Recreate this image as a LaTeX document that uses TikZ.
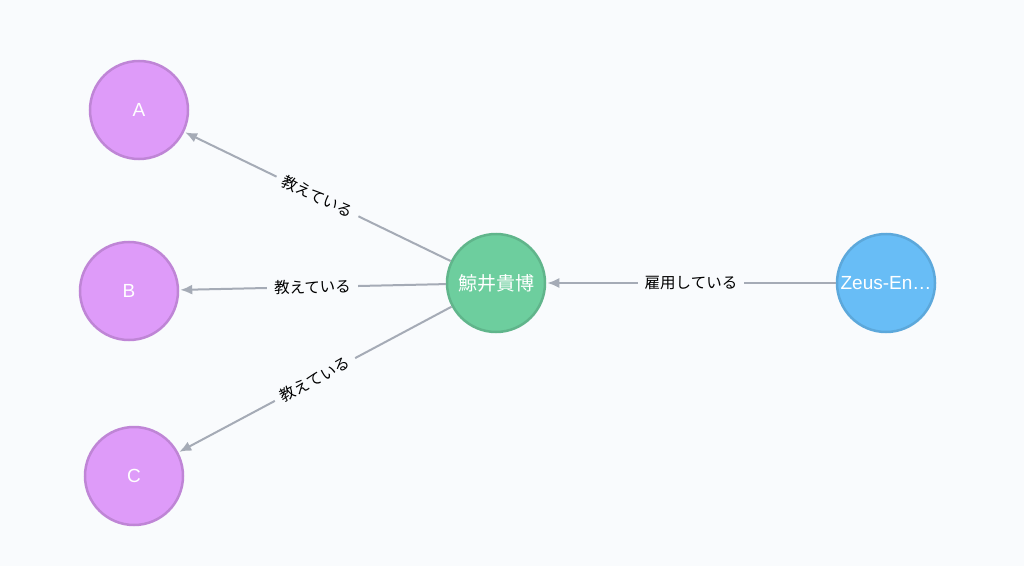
\documentclass[tikz,border=0pt]{standalone}
\usepackage{fontspec}
\setmainfont{Liberation Sans}
\newfontfamily\jpfont{Noto Sans CJK JP}
\usetikzlibrary{arrows.meta}

\definecolor{bgcol}{HTML}{F9FBFD}
\definecolor{edgecol}{HTML}{A5ABB6}
\definecolor{purplefill}{HTML}{DE9BF9}
\definecolor{purpleline}{HTML}{BF85D6}
\definecolor{greenfill}{HTML}{6DCE9E}
\definecolor{greenline}{HTML}{60B58B}
\definecolor{bluefill}{HTML}{68BDF6}
\definecolor{blueline}{HTML}{5CA8DB}

\begin{document}
\begin{tikzpicture}[x=1pt,y=1pt,
  person/.style={circle,minimum size=98pt,inner sep=0pt,line width=2.5pt,
    text=white,font=\fontsize{19}{19}\selectfont},
  student/.style={person,fill=purplefill,draw=purpleline},
  teacher/.style={person,fill=greenfill,draw=greenline,font=\jpfont\fontsize{19}{19}\selectfont},
  company/.style={person,fill=bluefill,draw=blueline},
  rel/.style={draw=edgecol,line width=2pt,-{Latex[length=12pt,width=10pt]},shorten >=1pt},
  lbl/.style={fill=bgcol,inner xsep=7pt,inner ysep=1pt,text=black,
    font=\jpfont\fontsize{15.5}{15.5}\selectfont}]

  \fill[bgcol] (0,0) rectangle (1024,566);
  \useasboundingbox (0,0) rectangle (1024,566);

  \node[student] (a) at (139,456) {A};
  \node[student] (b) at (129,275) {B};
  \node[student] (c) at (134,90) {C};

  \node[teacher] (t) at (496,283) {鯨井貴博};
  \node[company] (z) at (886,283) {Zeus-En…};

  \draw[rel] (t) to node[lbl,sloped] {教えている} (a);
  \draw[rel] (t) to node[lbl,sloped] {教えている} (b);
  \draw[rel] (t) to node[lbl,sloped] {教えている} (c);
  \draw[rel] (z) to node[lbl] {雇用している} (t);

\end{tikzpicture}
\end{document}
